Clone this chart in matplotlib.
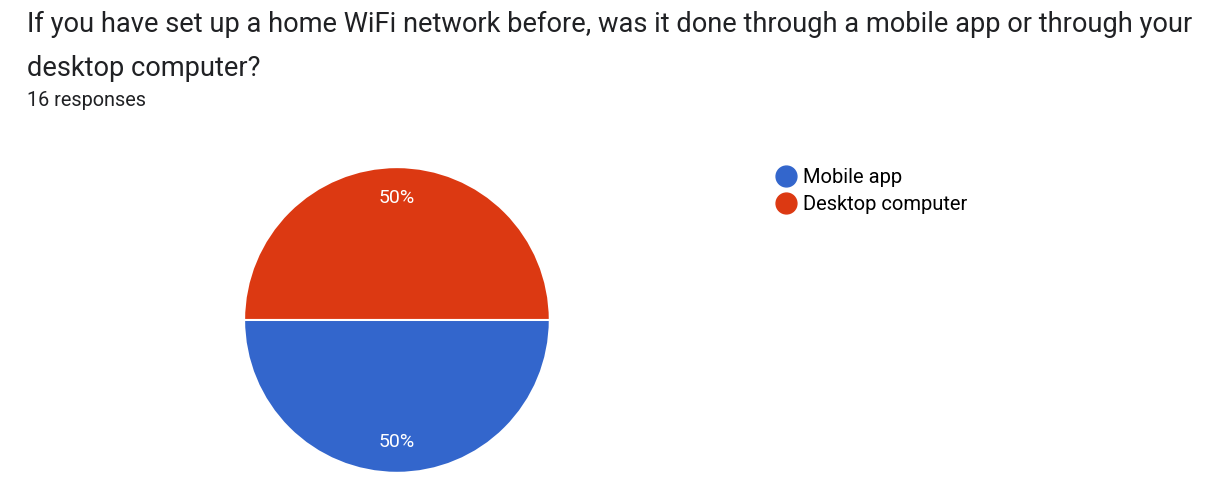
import matplotlib
matplotlib.use("Agg")
import matplotlib.pyplot as plt
from matplotlib.lines import Line2D

plt.rcParams['font.family'] = ['Roboto', 'DejaVu Sans']

labels = ["Mobile app", "Desktop computer"]
values = [8, 8]
colors = ["#3366CC", "#DC3912"]

fig = plt.figure(figsize=(12.18, 4.9), dpi=100)
fig.text(27/1218, 1-24/490, "If you have set up a home WiFi network before, was it done through a mobile app or through your",
         fontsize=19.6, color="#202124", va="center")
fig.text(27/1218, 1-68/490, "desktop computer?", fontsize=19.6, color="#202124", va="center")
fig.text(27/1218, 1-101/490, "16 responses", fontsize=14.3, color="#202124", va="center")

ax = fig.add_axes([0.2004, 0.035, 0.251, 0.624])
ax.pie(values, colors=colors, startangle=180, counterclock=True,
       autopct='%1.0f%%', pctdistance=0.8,
       wedgeprops=dict(edgecolor="white", linewidth=1.5),
       textprops=dict(color="white", fontsize=14))
ax.set_xlim(-1, 1)
ax.set_ylim(-1, 1)
ax.set_aspect('equal')

handles = [Line2D([], [], marker='o', linestyle='', markersize=15, markerfacecolor=c, markeredgecolor=c) for c in colors]
fig.legend(handles, labels, loc="upper left", bbox_to_anchor=(768/1218, 1-160/490),
           frameon=False, fontsize=14.5, handletextpad=0.35, labelspacing=0.4, handlelength=1.0,
           borderaxespad=0)

fig.savefig("out.png", dpi=100, facecolor="white")
